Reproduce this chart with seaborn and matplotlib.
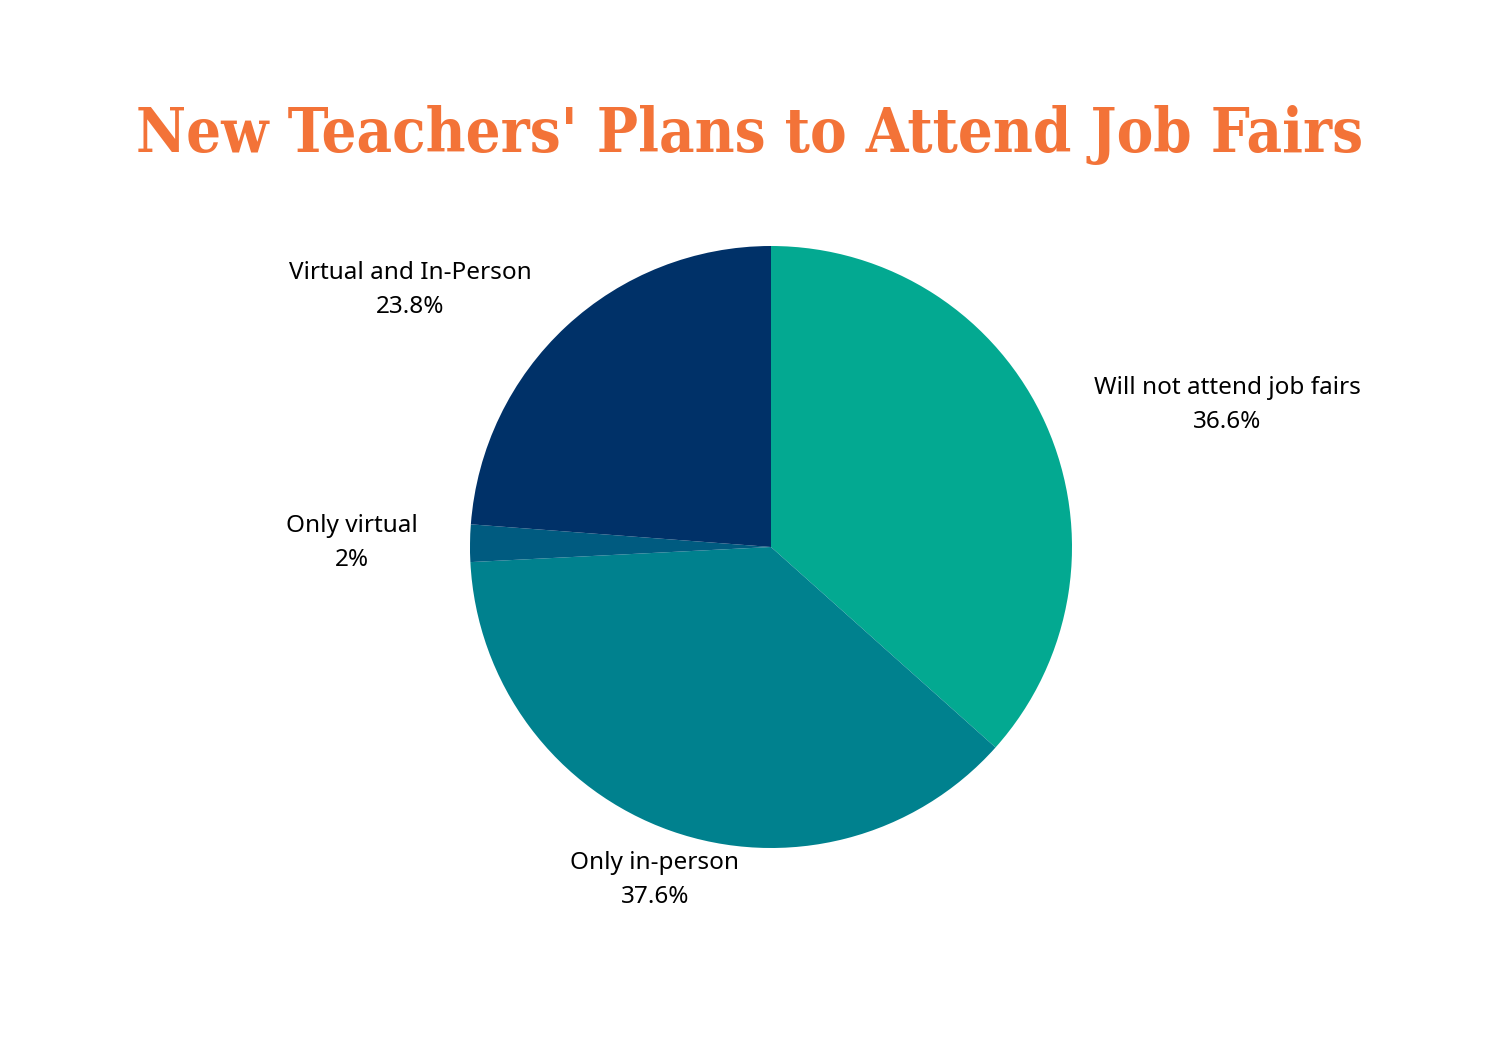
import matplotlib
matplotlib.use("Agg")
import matplotlib.pyplot as plt
import seaborn as sns

# Chart data
categories = ["Will not attend job fairs", "Only in-person", "Only virtual", "Virtual and In-Person"]
shares = [36.6, 37.6, 2.0, 23.8]
pct_labels = ["36.6%", "37.6%", "2%", "23.8%"]
colors = ["#03A991", "#00818E", "#005B80", "#003168"]

sns.set_theme(style="white")
plt.rcParams["font.family"] = ["Noto Sans", "DejaVu Sans"]

fig = plt.figure(figsize=(15, 10.5), dpi=100)
ax = fig.add_axes([0, 0, 1, 1])

# pie laid out in pixel space
cx, cy, r = 771, 1050 - 547, 301
ax.pie(shares, colors=colors, startangle=90, counterclock=False,
       center=(cx, cy), radius=r, frame=True,
       wedgeprops=dict(linewidth=0))
ax.set_xlim(0, 1500)
ax.set_ylim(0, 1050)
ax.set_aspect("equal")
ax.axis("off")

# label anchor positions (pixels from top-left)
label_pos = [(1227, 405), (655, 880), (352, 543), (410, 290)]
for name, pct, (x, y) in zip(categories, pct_labels, label_pos):
    ax.text(x, 1050 - y, f"{name}\n{pct}", ha="center", va="center",
            fontsize=17.5, color="#000000", linespacing=1.6)

ax.text(750, 1050 - 135, "New Teachers' Plans to Attend Job Fairs",
        ha="center", va="center", fontsize=44, fontweight="bold",
        fontstretch="condensed", family=["DejaVu Serif"], color="#F37338")

fig.savefig("out.png", dpi=100)
